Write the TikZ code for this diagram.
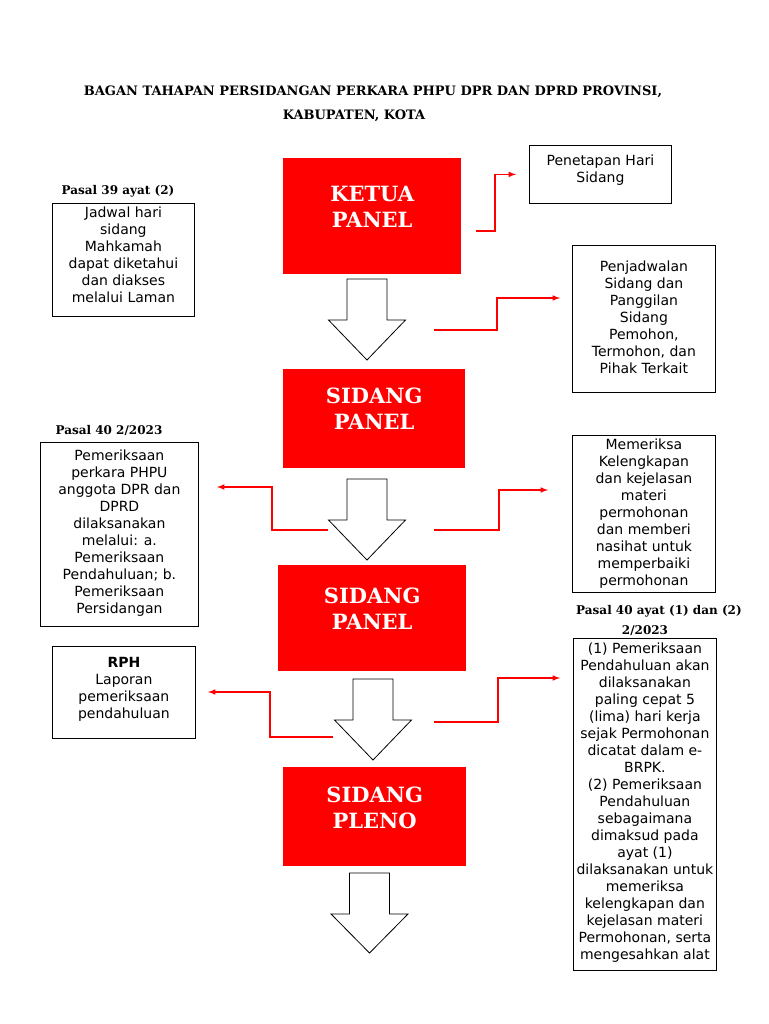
\documentclass[tikz,border=0pt]{standalone}
\usepackage{fontspec}
\setmainfont{DejaVu Sans}
\newfontfamily\serifb{DejaVu Serif}
\usetikzlibrary{positioning}
\tikzset{
  redbox/.style={fill=red, draw=none, anchor=north west, text=white, text depth=19pt,
    font=\serifb\bfseries\fontsize{21}{26}\selectfont, align=center},
  box/.style={draw, thick, anchor=north west, inner sep=0pt},
  boxtext/.style={anchor=north, align=center, inner sep=0pt,
    font=\fontsize{14}{17}\selectfont},
  pasal/.style={font=\serifb\bfseries\fontsize{12}{14}\selectfont},
  link/.style={draw=red, line width=1.5pt, -latex},
  bigarrow/.style={draw, thick, fill=white}
}
\newcommand{\hollowarrow}[3]{% x-center, top, tip
  \draw[bigarrow] (#1-20,#2) -- (#1+20,#2) -- (#1+20,#2+41) -- (#1+38.5,#2+41)
    -- (#1,#3) -- (#1-38.5,#2+41) -- (#1-20,#2+41) -- cycle;}
\begin{document}
\begin{tikzpicture}[x=1pt,y=-1pt]
\useasboundingbox (0,0) rectangle (768,1024);

% judul
\node[pasal, font=\serifb\bfseries\fontsize{13}{16}\selectfont] (judul1) at (373,92)
  {BAGAN TAHAPAN PERSIDANGAN PERKARA PHPU DPR DAN DPRD PROVINSI,};
\node[pasal, font=\serifb\bfseries\fontsize{13}{16}\selectfont] (judul2) at (354,116)
  {KABUPATEN, KOTA};

% tahapan
\node[redbox, minimum width=178, minimum height=116] (ketua) at (283,158) {KETUA\\PANEL};
\node[redbox, minimum width=182, minimum height=99] (panel1) at (283,369) {SIDANG\\PANEL};
\node[redbox, minimum width=188, minimum height=106] (panel2) at (278,565) {SIDANG\\PANEL};
\node[redbox, minimum width=183, minimum height=99] (pleno) at (283,767) {SIDANG\\PLENO};

% panah besar
\hollowarrow{367}{279}{360}
\hollowarrow{367}{479}{560}
\hollowarrow{373}{679}{760}
\hollowarrow{369.5}{873}{953}

% kotak kanan
\node[box, minimum width=142, minimum height=58] (tetap) at (529,145) {};
\node[boxtext] (tetapt) at ([yshift=-10]tetap.north) {Penetapan Hari\\Sidang};
\node[box, minimum width=143, minimum height=147] (jadwal) at (572,245) {};
\node[boxtext] (jadwalt) at ([yshift=-16]jadwal.north)
  {Penjadwalan\\Sidang dan\\Panggilan\\Sidang\\Pemohon,\\Termohon, dan\\Pihak Terkait};
\node[box, minimum width=143, minimum height=157] (periksa) at (572,435) {};
\node[boxtext] (periksat) at ([yshift=-4]periksa.north)
  {Memeriksa\\Kelengkapan\\dan kejelasan\\materi\\permohonan\\dan memberi\\nasihat untuk\\memperbaiki\\permohonan};
\node[pasal] (pasal3a) at (659,611) {Pasal 40 ayat (1) dan (2)};
\node[pasal] (pasal3b) at (645,631) {2/2023};
\node[box, minimum width=143, minimum height=332] (ayat) at (573,638) {};
\node[boxtext] (ayatt) at ([yshift=-5]ayat.north)
  {(1) Pemeriksaan\\Pendahuluan akan\\dilaksanakan\\paling cepat 5\\(lima) hari kerja\\sejak Permohonan\\dicatat dalam e-\\BRPK.\\(2) Pemeriksaan\\Pendahuluan\\sebagaimana\\dimaksud pada\\ayat (1)\\dilaksanakan untuk\\memeriksa\\kelengkapan dan\\kejelasan materi\\Permohonan, serta\\mengesahkan alat};

% kotak kiri
\node[pasal] (pasal1) at (118,191) {Pasal 39 ayat (2)};
\node[box, minimum width=142, minimum height=113] (laman) at (52,203) {};
\node[boxtext] (lamant) at ([yshift=-4]laman.north)
  {Jadwal hari\\sidang\\Mahkamah\\dapat diketahui\\dan diakses\\melalui Laman};
\node[pasal] (pasal2) at (109,430) {Pasal 40 2/2023};
\node[box, minimum width=158, minimum height=184] (phpu) at (40,442) {};
\node[boxtext] (phput) at ([yshift=-8]phpu.north)
  {Pemeriksaan\\perkara PHPU\\anggota DPR dan\\DPRD\\dilaksanakan\\melalui: a.\\Pemeriksaan\\Pendahuluan; b.\\Pemeriksaan\\Persidangan};
\node[box, minimum width=143, minimum height=92] (rph) at (52,646) {};
\node[boxtext] (rpht) at ([yshift=-11]rph.north)
  {\textbf{RPH}\\Laporan\\pemeriksaan\\pendahuluan};

% penghubung
\coordinate (k1) at (476,231);
\coordinate (k2) at (434,330);
\coordinate (k3) at (434,530);
\coordinate (k4) at (434,722);
\coordinate (l3) at (328,530);
\coordinate (l4) at (333,737);
\draw[link] (k1) -- (495,231) |- ([xshift=-13]tetap.west);
\draw[link] (k2) -- (497,330) |- (560,298);
\draw[link] (k3) -- (499,530) |- (548,490);
\draw[link] (k4) -- (498,722) |- (560,678);
\draw[link] (l3) -- (272,530) |- (217,487);
\draw[link] (l4) -- (270,737) |- (208,692);
\end{tikzpicture}
\end{document}
